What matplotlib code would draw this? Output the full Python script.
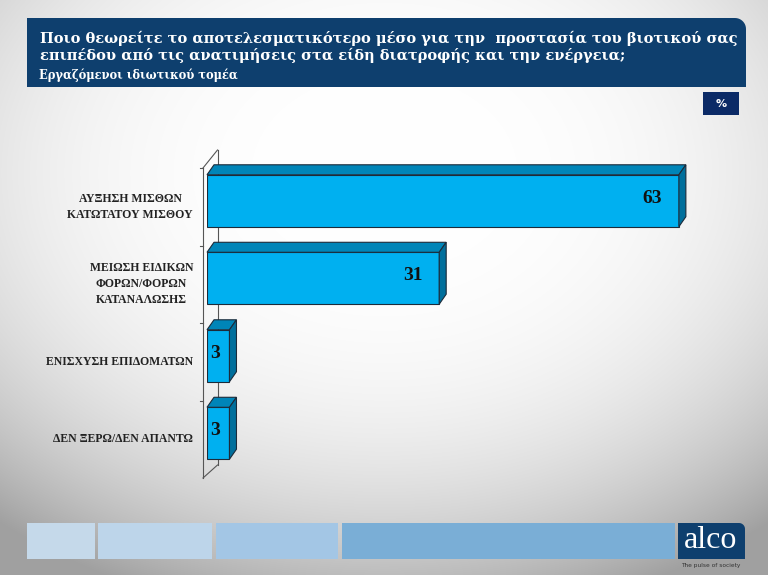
import numpy as np
import matplotlib
matplotlib.use("Agg")
import matplotlib.pyplot as plt
from matplotlib.path import Path
from matplotlib.patches import PathPatch, Rectangle, Polygon

# data
categories = ["ΑΥΞΗΣΗ ΜΙΣΘΩΝ\nΚΑΤΩΤΑΤΟΥ ΜΙΣΘΟΥ",
              "ΜΕΙΩΣΗ ΕΙΔΙΚΩΝ\nΦΟΡΩΝ/ΦΟΡΩΝ\nΚΑΤΑΝΑΛΩΣΗΣ",
              "ΕΝΙΣΧΥΣΗ ΕΠΙΔΟΜΑΤΩΝ",
              "ΔΕΝ ΞΕΡΩ/ΔΕΝ ΑΠΑΝΤΩ"]
values = [63, 31, 3, 3]

title_lines = ["Ποιο θεωρείτε το αποτελεσματικότερο μέσο για την  προστασία του βιοτικού σας",
               "επιπέδου από τις ανατιμήσεις στα είδη διατροφής και την ενέργεια;"]
subtitle = "Εργαζόμενοι ιδιωτικού τομέα"

W, H = 768, 575
NAVY = "#0e3f6e"
serif = ["Liberation Serif", "DejaVu Serif"]
wide_serif = ["DejaVu Serif"]

fig = plt.figure(figsize=(W / 100, H / 100), dpi=100)

# background with radial gradient
bg = fig.add_axes([0, 0, 1, 1])
bg.set_xlim(0, W)
bg.set_ylim(H, 0)
bg.axis("off")
yy, xx = np.mgrid[0:H, 0:W]
r = np.sqrt(((xx - W * 0.5) / (W * 0.75)) ** 2 + ((yy - H * 0.3) / (H * 0.75)) ** 2)
shade = np.clip(1.0 - 0.32 * r ** 3, 0.63, 1.0)
bg.imshow(np.dstack([shade] * 3), extent=(0, W, H, 0), aspect="auto", zorder=0)


def box_tr_round(x0, y0, x1, y1, rad, color):
    t = np.linspace(0, np.pi / 2, 12)
    arc = [(x1 - rad + rad * np.cos(a), y0 + rad - rad * np.sin(a)) for a in t]
    verts = [(x0, y1), (x1, y1)] + arc + [(x0, y0), (x0, y1)]
    codes = [Path.MOVETO] + [Path.LINETO] * (len(verts) - 2) + [Path.CLOSEPOLY]
    bg.add_patch(PathPatch(Path(verts, codes), facecolor=color, edgecolor="none", zorder=2))


# title banner
box_tr_round(27, 18, 746, 87, 11, NAVY)
for yb, line in zip([43, 60], title_lines):
    bg.text(40, yb, line, color="white", fontsize=10.5, fontweight="bold",
            family=wide_serif, va="baseline", ha="left", zorder=3)
bg.text(39, 79.5, subtitle, color="white", fontsize=8.3, fontweight="bold",
        family=wide_serif, va="baseline", ha="left", zorder=3)

# % box
bg.add_patch(Rectangle((703, 92), 36, 23, facecolor="#0b2a66", edgecolor="none", zorder=2))
bg.text(721, 104, "%", color="white", fontsize=8, fontweight="bold", ha="center",
        va="center", zorder=3)

# footer strips
for (x0, x1, c) in [(27, 95, "#c5d9ea"), (98, 212, "#bdd5ea"),
                    (216, 338, "#a3c6e5"), (342, 675, "#7aaed6")]:
    bg.add_patch(Rectangle((x0, 523), x1 - x0, 36, facecolor=c, edgecolor="none", zorder=2))
box_tr_round(678, 523, 745, 559, 6, NAVY)
bg.text(711, 541, "alco", color="white", fontsize=23, family=serif, ha="center",
        va="center", zorder=3)
bg.text(711, 566, "The pulse of society", color="#333333", fontsize=4.2,
        ha="center", va="center", zorder=3)

# chart axes: x=0 at px 207, 7.49 px per unit; rows 77.5 px apart from px 168 to 478
x_left, px_per = 207, 7.49
xmax = 70
y_top, y_bot = 168, 478
ax = fig.add_axes([x_left / W, 1 - y_bot / H, xmax * px_per / W, (y_bot - y_top) / H])
ax.set_xlim(0, xmax)
ax.set_ylim(len(values) - 0.5, -0.5)
ax.axis("off")
ax.patch.set_visible(False)

row_px = (y_bot - y_top) / len(values)
dx = 7 / px_per            # depth offset in data units
dy = 10 / row_px
lift = 6 / row_px          # bars sit a little above the row centre (3D view)

# wall (3D left axis)
wf, wb = -4 / px_per, 10.5 / px_per
top, bot = -0.5, len(values) - 0.5
wall_kw = dict(color="#555555", lw=0.8, clip_on=False, zorder=1)
ax.plot([wf, wf], [top, bot], **wall_kw)
ax.plot([wb, wb], [top - 18 / row_px, bot - 13 / row_px], **wall_kw)
ax.plot([wf, wb], [top, top - 18 / row_px], **wall_kw)
ax.plot([wf, wb], [bot, bot - 13 / row_px], **wall_kw)
for b in np.arange(-0.5, len(values) - 0.5, 1.0):
    ax.plot([wf - 3 / px_per, wf], [b, b], **wall_kw)

h = 0.67
ypos = np.arange(len(values))
ax.barh(ypos - lift, values, height=h, color="#00b0f0", edgecolor="#1c2b3a", lw=0.8,
        zorder=3)
for y, v in zip(ypos, values):
    yc = y - lift
    yt, yb = yc - h / 2, yc + h / 2
    ax.add_patch(Polygon([(0, yt), (v, yt), (v + dx, yt - dy), (dx, yt - dy)],
                         closed=True, facecolor="#0085b8", edgecolor="#1c2b3a",
                         lw=0.8, zorder=3, clip_on=False))
    ax.add_patch(Polygon([(v, yt), (v + dx, yt - dy), (v + dx, yb - dy), (v, yb)],
                         closed=True, facecolor="#006f9c", edgecolor="#1c2b3a",
                         lw=0.8, zorder=3, clip_on=False))
    lx = max(v - 17 / px_per, 12.5 / px_per)
    ax.text(lx, yc - 0.03, str(v), ha="right", va="center", fontsize=14,
            fontweight="bold", family=serif, color="#111111", zorder=4)
    ax.text(-14 / px_per, y, categories[y], ha="right", va="center", fontsize=8.5,
            fontweight="bold", family=serif, color="#222222",
            multialignment="center", linespacing=1.45, clip_on=False)

fig.savefig("out.png", dpi=100)
